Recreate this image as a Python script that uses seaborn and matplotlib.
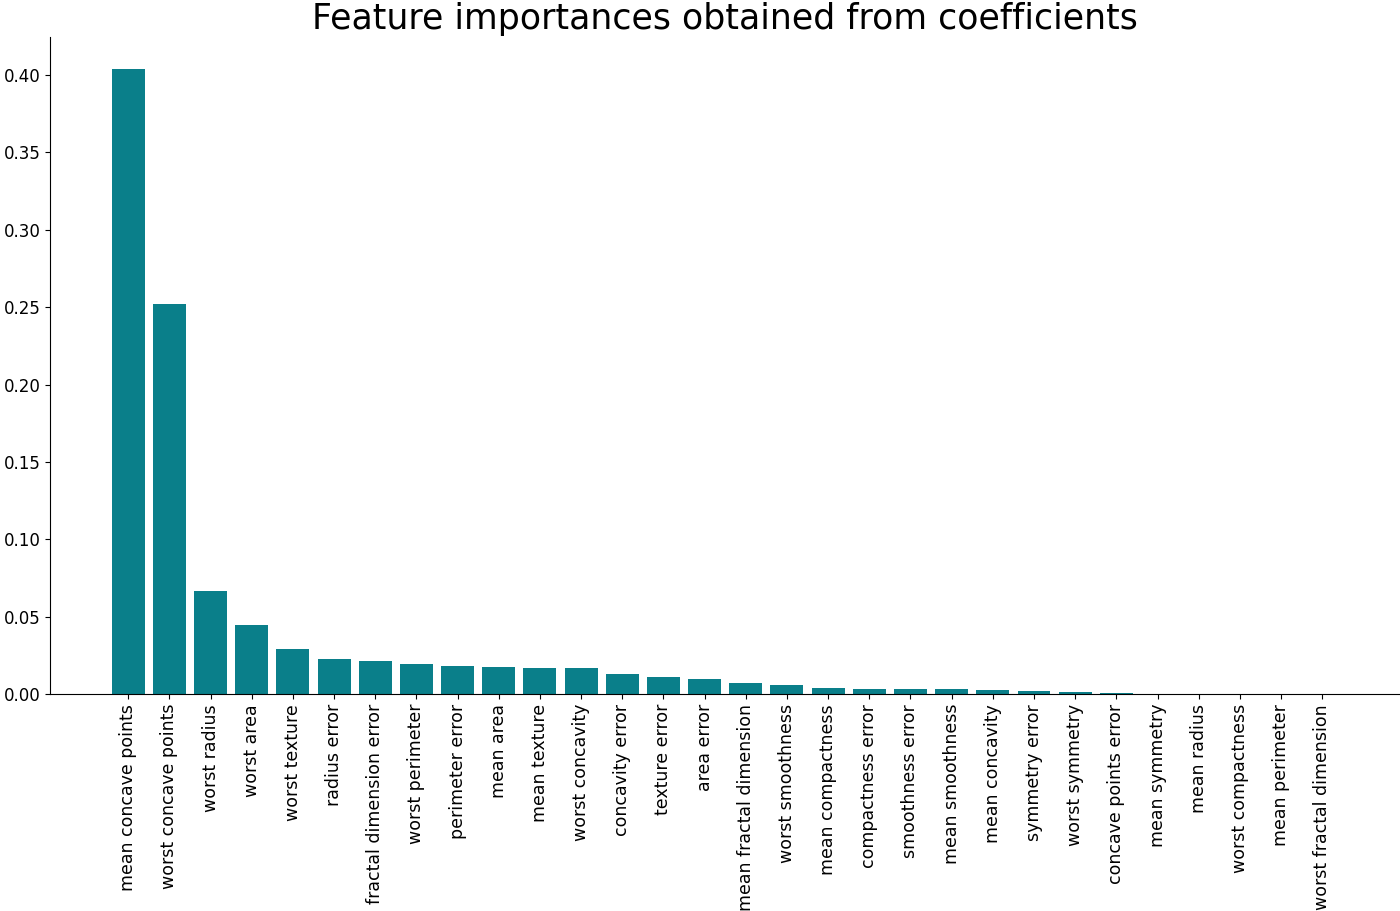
import matplotlib
matplotlib.use("Agg")
import matplotlib.pyplot as plt
import seaborn as sns
import pandas as pd

# Feature importances
features = [
    "mean concave points", "worst concave points", "worst radius", "worst area",
    "worst texture", "radius error", "fractal dimension error", "worst perimeter",
    "perimeter error", "mean area", "mean texture", "worst concavity",
    "concavity error", "texture error", "area error", "mean fractal dimension",
    "worst smoothness", "mean compactness", "compactness error", "smoothness error",
    "mean smoothness", "mean concavity", "symmetry error", "worst symmetry",
    "concave points error", "mean symmetry", "mean radius", "worst compactness",
    "mean perimeter", "worst fractal dimension",
]
importances = [
    0.404, 0.252, 0.0665, 0.045, 0.029, 0.023, 0.0212, 0.0193,
    0.018, 0.0174, 0.0168, 0.0168, 0.0130, 0.0110, 0.0097, 0.0071,
    0.0058, 0.0040, 0.0035, 0.0034, 0.0031, 0.0026, 0.0020, 0.0017,
    0.0009, 0.0, 0.0, 0.0, 0.0, 0.0,
]

df = pd.DataFrame({"feature": features, "importance": importances})

fig, ax = plt.subplots(figsize=(14, 9.11), dpi=100)
fig.subplots_adjust(left=0.036, right=1.0, top=0.959, bottom=0.238)

sns.barplot(data=df, x="feature", y="importance", color="#0a7f8a",
            saturation=1, width=0.8, linewidth=0, ax=ax)

# same padding plt.bar would give
n = len(features)
pad = 0.05 * (n - 0.2)
ax.set_xlim(-0.4 - pad, n - 0.6 + pad)
ax.set_ylim(0, max(importances) * 1.05)

ax.set_title("Feature importances obtained from coefficients", fontsize=25)
ax.set_xlabel("")
ax.set_ylabel("")
ax.tick_params(axis="x", labelrotation=90, labelsize=12.5)
ax.tick_params(axis="y", labelsize=12)
ax.yaxis.set_major_formatter(matplotlib.ticker.FormatStrFormatter("%.2f"))
sns.despine(ax=ax)

fig.savefig("out.png")
